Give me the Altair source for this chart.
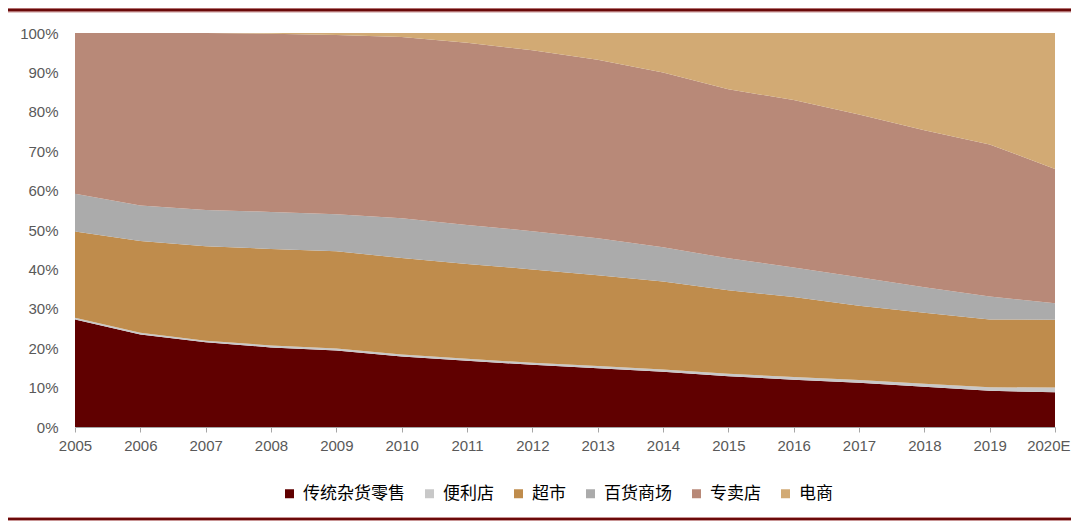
import altair as alt
import pandas as pd

years = ["2005", "2006", "2007", "2008", "2009", "2010", "2011", "2012",
         "2013", "2014", "2015", "2016", "2017", "2018", "2019", "2020E"]
series = ["传统杂货零售", "便利店", "超市", "百货商场", "专卖店", "电商"]
colors = ["#600000", "#C8C8C8", "#BF8C4C", "#ABABAB", "#B88978", "#D2AA74"]

traditional = [27.3, 23.5, 21.5, 20.2, 19.4, 17.9, 16.8, 15.8, 14.9, 14.0, 12.9, 12.0, 11.2, 10.2, 9.2, 8.8]
convenience = [0.4, 0.4, 0.4, 0.5, 0.5, 0.5, 0.5, 0.5, 0.6, 0.6, 0.6, 0.7, 0.7, 0.8, 0.9, 1.2]
supermarket = [21.9, 23.3, 24.0, 24.5, 24.7, 24.5, 24.1, 23.7, 23.0, 22.3, 21.2, 20.3, 18.9, 18.0, 17.2, 17.2]
department = [9.6, 9.0, 9.2, 9.4, 9.4, 10.1, 9.9, 9.7, 9.4, 8.7, 8.1, 7.5, 7.2, 6.5, 5.8, 4.2]
specialty = [40.8, 43.8, 44.9, 45.2, 45.5, 46.0, 46.2, 45.9, 45.3, 44.4, 42.9, 42.5, 41.3, 39.8, 38.6, 34.1]
ecommerce = [0.0, 0.0, 0.0, 0.2, 0.5, 1.0, 2.5, 4.4, 6.8, 10.0, 14.3, 17.0, 20.7, 24.7, 28.3, 34.5]

all_series = [traditional, convenience, supermarket, department, specialty, ecommerce]
rows = []
for si, (name, vals) in enumerate(zip(series, all_series)):
    for yr, v in zip(years, vals):
        rows.append({"year": yr, "series": name, "value": v, "idx": si})
df = pd.DataFrame(rows)

label_font = "Liberation Sans"
cjk_font = "Noto Sans CJK SC"

area = alt.Chart(df).mark_area(interpolate="linear").encode(
    x=alt.X("year:O", sort=years,
            scale=alt.Scale(type="point", padding=0),
            axis=alt.Axis(title=None, labelAngle=0, labelFont=label_font, labelFontSize=15,
                          labelColor="#595959", domainColor="#A6A6A6", tickColor="#A6A6A6",
                          tickSize=5, labelPadding=6, grid=False,
                          labelAlign=alt.expr("datum.value == '2020E' ? 'right' : 'center'"),
                          labelOffset=alt.expr("datum.value == '2020E' ? 15 : 0"))),
    y=alt.Y("value:Q", stack="zero",
            scale=alt.Scale(domain=[0, 100], nice=False),
            axis=alt.Axis(title=None, values=list(range(0, 101, 10)),
                          labelExpr="datum.value + '%'", ticks=False, grid=False,
                          labelFont=label_font, labelFontSize=15, labelColor="#595959",
                          domainColor="#BFBFBF", labelPadding=17)),
    color=alt.Color("series:N",
                    scale=alt.Scale(domain=series, range=colors),
                    legend=alt.Legend(title=None, orient="none", legendX=206, legendY=452,
                                      direction="horizontal", symbolType="square",
                                      symbolSize=81, symbolStrokeWidth=0,
                                      labelFont=cjk_font, labelFontSize=17, labelColor="#000000",
                                      columnPadding=16, labelOffset=5)),
    order=alt.Order("idx:Q", sort="ascending"),
)

line_df = pd.DataFrame({"k": [0]})
top_light = alt.Chart(line_df).mark_rule(color="#C89494", strokeWidth=5).encode(
    x=alt.value(-67), x2=alt.value(1000), y=alt.value(-23))
top_dark = alt.Chart(line_df).mark_rule(color="#6B0A0A", strokeWidth=2.5).encode(
    x=alt.value(-67), x2=alt.value(1000), y=alt.value(-23))
bot_light = alt.Chart(line_df).mark_rule(color="#C89494", strokeWidth=4).encode(
    x=alt.value(-67), x2=alt.value(1000), y=alt.value(486))
bot_dark = alt.Chart(line_df).mark_rule(color="#6B0A0A", strokeWidth=2).encode(
    x=alt.value(-67), x2=alt.value(1000), y=alt.value(486))

chart = alt.layer(area, top_light, top_dark, bot_light, bot_dark).properties(
    width=980, height=394,
    autosize=alt.AutoSizeParams(type="none"),
    padding={"left": 67, "top": 25, "right": 16, "bottom": 94},
    background="white",
).configure_view(stroke=None)

chart.save("out.html", embed_options={"renderer": "svg", "actions": False})
